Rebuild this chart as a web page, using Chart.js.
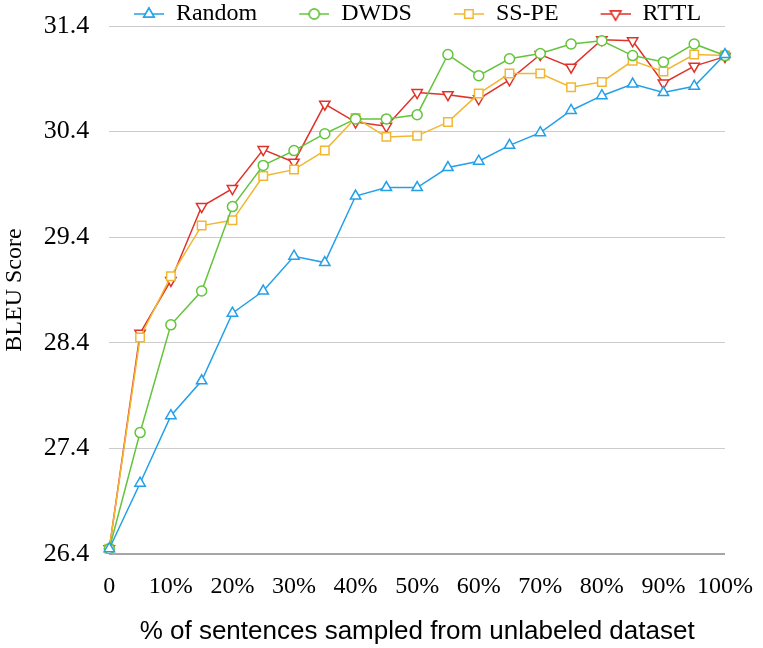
<!DOCTYPE html>
<html>
<head>
<meta charset="utf-8">
<script src="https://cdn.jsdelivr.net/npm/chart.js@4/dist/chart.umd.min.js"></script>
<style>
  html, body { margin: 0; padding: 0; background: #fff; }
  #wrap { width: 763px; height: 648px; position: relative; }
</style>
</head>
<body>
<div id="wrap"><canvas id="bleuChart"></canvas></div>
<script>
// x categories (% of unlabeled sentences sampled), every 5%
const categories = ["0", "5%", "10%", "15%", "20%", "25%", "30%", "35%", "40%", "45%", "50%",
  "55%", "60%", "65%", "70%", "75%", "80%", "85%", "90%", "95%", "100%"];

// BLEU scores
const randomScores = [26.45, 27.07, 27.71, 28.04, 28.68, 28.89, 29.22, 29.16, 29.79, 29.87, 29.87,
  30.06, 30.12, 30.27, 30.39, 30.60, 30.74, 30.85, 30.77, 30.83, 31.13];
const dwdsScores = [26.45, 27.55, 28.57, 28.89, 29.69, 30.08, 30.22, 30.38, 30.52, 30.52, 30.56,
  31.13, 30.93, 31.09, 31.14, 31.23, 31.26, 31.12, 31.06, 31.23, 31.12];
const sspeScores = [26.45, 28.45, 29.03, 29.51, 29.56, 29.98, 30.04, 30.22, 30.53, 30.35, 30.36,
  30.49, 30.76, 30.95, 30.95, 30.82, 30.87, 31.07, 30.97, 31.13, 31.12];
const rttlScores = [26.45, 28.49, 28.99, 29.69, 29.86, 30.23, 30.11, 30.66, 30.49, 30.45, 30.77,
  30.75, 30.71, 30.89, 31.13, 31.01, 31.27, 31.26, 30.86, 31.02, 31.11];

const yTicks = [26.4, 27.4, 28.4, 29.4, 30.4, 31.4];

const SERIF = "'Liberation Serif', 'Times New Roman', serif";
const SANS = "'Liberation Sans', Arial, sans-serif";

// legend icon: blank lead-in (spacing between items), then a short line with the marker on it
const ICON_W = 72, LINE_W = 30, ICON_H = 16;

function legendIcon(color, style, radius, rotation) {
  const dpr = window.devicePixelRatio || 1;
  const c = document.createElement("canvas");
  c.width = ICON_W * dpr; c.height = ICON_H * dpr;
  const g = c.getContext("2d");
  g.scale(dpr, dpr);
  const x0 = ICON_W - LINE_W;
  g.strokeStyle = color;
  g.lineWidth = 1.5;
  g.beginPath();
  g.moveTo(x0, ICON_H / 2);
  g.lineTo(ICON_W, ICON_H / 2);
  g.stroke();
  g.fillStyle = "#fff";
  Chart.helpers.drawPoint(g, { pointStyle: style, radius: radius, rotation: rotation || 0, borderWidth: 1.5 }, x0 + LINE_W / 2, ICON_H / 2);
  g.fill();
  g.stroke();
  const img = document.createElement("canvas");
  img.width = ICON_W; img.height = ICON_H;
  img.getContext("2d").drawImage(c, 0, 0, ICON_W, ICON_H);
  return img;
}

function series(label, data, color, style, radius, rotation) {
  return {
    label: label,
    data: data,
    borderColor: color,
    backgroundColor: "#fff",
    borderWidth: 1.5,
    pointStyle: style,
    pointRotation: rotation || 0,
    pointRadius: radius,
    pointHoverRadius: radius,
    pointBorderWidth: 1.5,
    pointBackgroundColor: "#fff",
    pointBorderColor: color,
    tension: 0,
    icon: legendIcon(color, style, radius, rotation)
  };
}

// the legend in the figure hugs the plot top and sits a bit right of centre
const LEGEND_H = 26;
const legendTweak = {
  id: "legendTweak",
  beforeLayout(chart) {
    const lg = chart.legend;
    if (!lg || lg._fitPatched) return;
    const fit = lg.fit;
    lg.fit = function () { fit.call(this); this.height = LEGEND_H; };
    lg._fitPatched = true;
  },
  afterLayout(chart) {
    const lg = chart.legend;
    if (!lg) return;
    lg.left += 17;
    lg.right += 17;
    lg.top += 2;
    lg.bottom += 2;
  }
};

const ctx = document.getElementById("bleuChart").getContext("2d");
new Chart(ctx, {
  type: "line",
  data: {
    labels: categories,
    datasets: [
      series("Random", randomScores, "#23a0e8", "triangle", 6),
      series("DWDS", dwdsScores, "#64c43c", "circle", 5),
      series("SS-PE", sspeScores, "#f2b732", "rect", 6),
      series("RTTL", rttlScores, "#e0322a", "triangle", 6, 180)
    ]
  },
  plugins: [legendTweak],
  options: {
    responsive: true,
    maintainAspectRatio: false,
    animation: false,
    layout: { padding: { left: 0, right: 4, top: 0, bottom: 1 } },
    plugins: {
      tooltip: { enabled: false },
      legend: {
        position: "top",
        labels: {
          usePointStyle: true,
          pointStyleWidth: ICON_W,
          padding: 0,
          color: "#000",
          font: { family: SERIF, size: 24, lineHeight: 1 },
          generateLabels: chart => chart.data.datasets.map((ds, i) => ({
            text: ds.label,
            pointStyle: ds.icon,
            fillStyle: "#fff",
            strokeStyle: ds.borderColor,
            lineWidth: 0,
            hidden: false,
            datasetIndex: i
          }))
        }
      }
    },
    scales: {
      x: {
        offset: false,
        grid: { display: false },
        border: { display: false },
        ticks: {
          autoSkip: false,
          maxRotation: 0,
          minRotation: 0,
          padding: 10,
          color: "#000",
          font: { family: SERIF, size: 24 },
          callback: function (val, i) { return i % 2 === 0 ? this.getLabelForValue(val) : ""; }
        },
        title: {
          display: true,
          text: "% of sentences sampled from unlabeled dataset",
          color: "#000",
          font: { family: SANS, size: 26 },
          padding: { top: 5, bottom: 0 }
        }
      },
      y: {
        min: 26.4,
        max: 31.4,
        afterBuildTicks: axis => { axis.ticks = yTicks.map(v => ({ value: v })); },
        grid: {
          color: ctx => ctx.index === 0 ? "#a6a6a6" : "#cccccc",
          lineWidth: ctx => ctx.index === 0 ? 2 : 1,
          drawTicks: true,
          tickLength: 20,
          tickColor: "rgba(0,0,0,0)"
        },
        border: { display: false },
        ticks: {
          padding: 0,
          color: "#000",
          font: { family: SERIF, size: 26 },
          callback: v => Number(v).toFixed(1)
        },
        title: {
          display: true,
          text: "BLEU Score",
          color: "#000",
          font: { family: SERIF, size: 24 },
          padding: { top: 0, bottom: 15 }
        }
      }
    }
  }
});
</script>
</body>
</html>
